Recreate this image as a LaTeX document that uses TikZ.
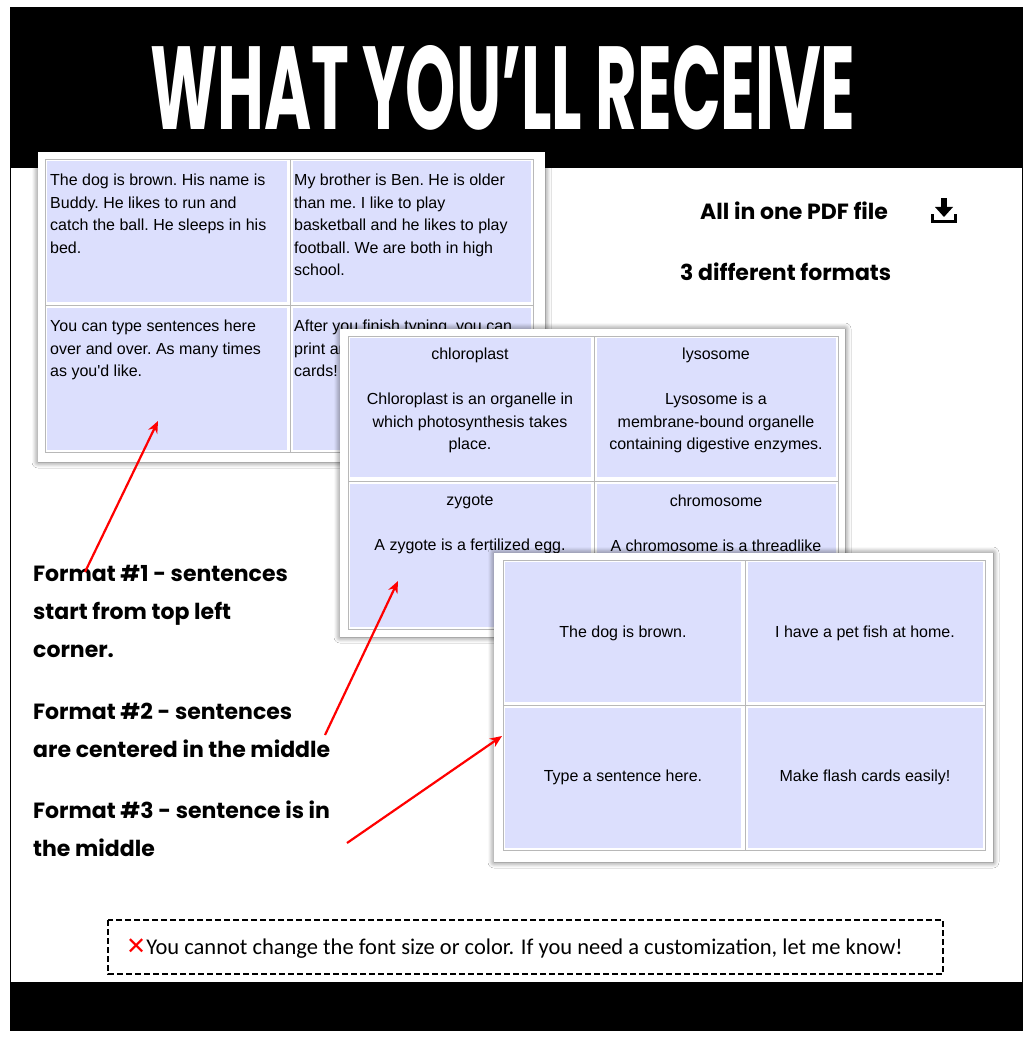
\documentclass[tikz,border=0pt]{standalone}
\usepackage{fontspec}
\setmainfont{Liberation Sans}
\newfontfamily\arialf{Liberation Sans}
\newfontfamily\hand{Poppins}
\newfontfamily\carl{Carlito}
\newfontfamily\dejavu{DejaVu Sans}
\usetikzlibrary{shadows.blur,arrows.meta}
\definecolor{cellblue}{HTML}{DCDFFD}
\definecolor{gridgray}{HTML}{B8B8B8}
\tikzset{
  frame/.style={fill=white,draw=none,blur shadow={shadow blur steps=8,shadow xshift=0pt,shadow yshift=0pt,shadow blur radius=6pt,shadow opacity=60}},
  cellbox/.style={fill=cellblue,draw=none},
  grid/.style={draw=gridgray,line width=0.8pt},
  celltext/.style={anchor=north west,inner sep=0pt,align=left,font=\arialf\frenchspacing\fontsize{16}{22.5}\selectfont},
  ctext/.style={anchor=north,inner sep=0pt,align=center,font=\arialf\frenchspacing\fontsize{16}{22.5}\selectfont},
  mtext/.style={inner sep=0pt,align=center,font=\arialf\frenchspacing\fontsize{16}{22.5}\selectfont},
  lbl/.style={anchor=north west,inner sep=0pt,align=left,font=\hand\bfseries\fontsize{22}{38}\selectfont},
  redarrow/.style={draw=red,line width=2.2pt,-{Stealth[length=12pt,width=10pt]}},
}
\begin{document}
\begin{tikzpicture}[x=1pt,y=-1pt]
\useasboundingbox (0,0) rectangle (1028,1040);
\fill[white] (0,0) rectangle (1028,1040);
% page frame
\draw[black,line width=1pt] (10,8) rectangle (1022,1030);
\fill[black] (10,8) rectangle (1022,168);
\fill[black] (10,982) rectangle (1022,1030);
\node (title) at (503,88) {\resizebox{705pt}{84pt}{\hand\bfseries\color{white}WHAT YOU’LL RECEIVE}};

% Card 1
\path[frame] (38,152) rectangle (545,462);
\path[cellbox] (47,161) rectangle (287,302);
\path[cellbox] (293,161) rectangle (531,302);
\path[cellbox] (47,308) rectangle (287,450);
\path[cellbox] (293,308) rectangle (531,450);
\draw[grid] (45,159) rectangle (533,452);
\draw[grid] (290,159) -- (290,452);
\draw[grid] (45,305) -- (533,305);
\node[celltext] (c1a) at (50,174) {The dog is brown. His name is\\Buddy. He likes to run and\\catch the ball. He sleeps in his\\bed.};
\node[celltext] (c1b) at (294,174) {My brother is Ben. He is older\\than me. I like to play\\basketball and he likes to play\\football. We are both in high\\school.};
\node[celltext] (c1c) at (50,320) {You can type sentences here\\over and over. As many times\\as you'd like.};
\node[celltext] (c1d) at (294,320) {After you finish typing, you can\\print and cut the\\cards!};

% Card 2
\path[frame] (340,329) rectangle (845,637);
\path[cellbox] (350,338) rectangle (591,477);
\path[cellbox] (597,338) rectangle (836,477);
\path[cellbox] (350,484) rectangle (591,627);
\path[cellbox] (597,484) rectangle (836,627);
\draw[grid] (348,336) rectangle (838,629);
\draw[grid] (594,336) -- (594,629);
\draw[grid] (348,481) -- (838,481);
\node[ctext] (c2a) at (470,348) {chloroplast\\[22.5pt]Chloroplast is an organelle in\\which photosynthesis takes\\place.};
\node[ctext] (c2b) at (716,348) {lysosome\\[22.5pt]Lysosome is a\\membrane-bound organelle\\containing digestive enzymes.};
\node[ctext] (c2c) at (470,495) {zygote\\[22.5pt]A zygote is a fertilized egg.};
\node[ctext] (c2d) at (716,495) {chromosome\\[22.5pt]A chromosome is a threadlike};

% Card 3
\path[frame] (494,553) rectangle (993,862);
\path[cellbox] (505,562) rectangle (741,702);
\path[cellbox] (748,562) rectangle (983,702);
\path[cellbox] (505,708) rectangle (741,848);
\path[cellbox] (748,708) rectangle (983,848);
\draw[grid] (503,560) rectangle (985,850);
\draw[grid] (745,560) -- (745,850);
\draw[grid] (503,705) -- (985,705);
\node[mtext] (c3a) at (623,633) {The dog is brown.};
\node[mtext] (c3b) at (865,633) {I have a pet fish at home.};
\node[mtext] (c3c) at (623,777) {Type a sentence here.};
\node[mtext] (c3d) at (865,777) {Make flash cards easily!};

% right texts
\node[anchor=west,inner sep=0pt,font=\hand\bfseries\fontsize{22}{30}\selectfont] (pdf) at (700,211) {All in one PDF file};
\node[anchor=west,inner sep=0pt,font=\hand\bfseries\fontsize{22}{30}\selectfont] (fmt) at (680,272) {3 different formats};
% download icon
\begin{scope}[shift={(944,211)}]
\fill[black] (-3,-13) rectangle (3,-1);
\fill[black] (-9,-4) -- (9,-4) -- (0,6) -- cycle;
\fill[black] (-13,3) rectangle (-10,12);
\fill[black] (10,3) rectangle (13,12);
\fill[black] (-13,9) rectangle (13,12);
\end{scope}

% left labels
\node[lbl] (f1) at (33,565) {Format \#1 - sentences\\start from top left\\corner.};
\node[lbl] (f2) at (33,703) {Format \#2 - sentences\\are centered in the middle};
\node[lbl] (f3) at (33,801) {Format \#3 - sentence is in\\the middle};
\coordinate (a1s) at (85,572); \coordinate (a1e) at (158,421);
\coordinate (a2s) at (325,735); \coordinate (a2e) at (398,581);
\coordinate (a3s) at (347,843); \coordinate (a3e) at (502,736);
\draw[redarrow] (a1s) -- (a1e);
\draw[redarrow] (a2s) -- (a2e);
\draw[redarrow] (a3s) -- (a3e);

% note box
\draw[black,line width=2pt,dash pattern=on 6pt off 3pt] (108,920) rectangle (943,974);
\node[anchor=west,inner sep=0pt,font=\carl\fontsize{22.5}{26}\selectfont] (note) at (126,949) {\textcolor{red}{\dejavu\bfseries\fontsize{24}{24}\selectfont ✕}You cannot change the font size or color. If you need a customization, let me know!};
\end{tikzpicture}
\end{document}
